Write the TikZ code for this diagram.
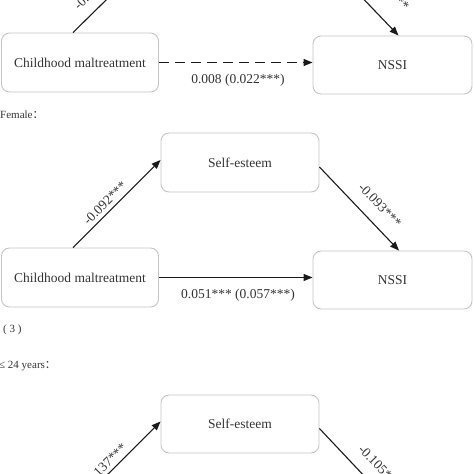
\documentclass[tikz,border=0pt]{standalone}
\usepackage{fontspec}
\setmainfont{Liberation Serif}
\newfontfamily\cjkf{Noto Sans CJK SC}
\usetikzlibrary{arrows.meta}
\definecolor{txt}{HTML}{333333}
\definecolor{boxline}{HTML}{C4C4C4}
\definecolor{arr}{HTML}{1A1A1A}
\tikzset{
  varbox/.style={draw=boxline, line width=0.9pt, rounded corners=8pt, minimum width=157pt, minimum height=59pt, inner sep=0pt, text=txt, font=\fontsize{13.5}{15}\selectfont},
  path/.style={draw=arr, line width=1.1pt, -{Triangle[length=9pt,width=7pt]}},
  plainpath/.style={draw=arr, line width=1.1pt},
  dashpath/.style={path, dash pattern=on 10pt off 6pt},
  lab/.style={text=txt, font=\fontsize{13.5}{15}\selectfont, inner sep=0pt},
  head/.style={text=txt, font=\fontsize{11}{13}\selectfont, inner sep=0pt, anchor=west}
}
\begin{document}
\begin{tikzpicture}[x=1pt,y=-1pt]
\useasboundingbox (0,0) rectangle (474,474);
\clip (0,0) rectangle (474,474);
% ---- section 1 (partly visible) ----
\node[varbox] (cm1) at (80,62.5) {Childhood maltreatment};
\node[varbox, minimum width=159pt, minimum height=58pt] (nssi1) at (392.5,65) {NSSI};
\coordinate (se1a) at (161,-54);
\coordinate (se1b) at (318.5,-48);
\draw[plainpath] ([xshift=-7pt]cm1.north) -- (se1a);
\draw[path] (se1b) -- ([xshift=6pt]nssi1.north);
\draw[dashpath] (cm1.east) -- (cm1.east -| nssi1.west);
\node[lab] (l1c) at (238,80) {0.008 (0.022***)};
\node[lab, rotate=45, anchor=base west] (l1a) at (79,11) {-0.0};
\node[lab, rotate=-46, anchor=base east] (l1b) at (404,11) {***};
% ---- Female ----
\node[head] (hf) at (0,115) {Female{\cjkf ：}};
\node[varbox, minimum width=158pt] (se2) at (240,162.5) {Self-esteem};
\node[varbox] (cm2) at (80,277.5) {Childhood maltreatment};
\node[varbox, minimum width=159pt, minimum height=58pt] (nssi2) at (392.5,280) {NSSI};
\draw[path] ([xshift=-7pt]cm2.north) -- ([yshift=2.5pt]se2.west);
\draw[path] ([yshift=-4.5pt]se2.east) -- ([xshift=6.5pt]nssi2.north);
\draw[path] (cm2.east) -- (cm2.east -| nssi2.west);
\node[lab, rotate=45] (l2a) at (105,203) {-0.092***};
\node[lab, rotate=-46] (l2b) at (380,205) {-0.093***};
\node[lab] (l2c) at (238,295) {0.051*** (0.057***)};
% ---- (3) ----
\node[head] (h3) at (3,330) {( 3 )};
\node[head] (hage) at (-1,366) {≤ 24 years{\cjkf ：}};
\node[varbox, minimum width=158pt, minimum height=58pt] (se3) at (240,424) {Self-esteem};
\coordinate (cm3) at (73,509);
\coordinate (nssi3) at (399,513);
\draw[path] (cm3) -- ([yshift=2.5pt]se3.west);
\draw[plainpath] ([yshift=-4.5pt]se3.east) -- (nssi3);
\node[lab, rotate=45] (l3a) at (105,465) {-0.137***};
\node[lab, rotate=-46] (l3b) at (380,467) {-0.105***};
\end{tikzpicture}
\end{document}
